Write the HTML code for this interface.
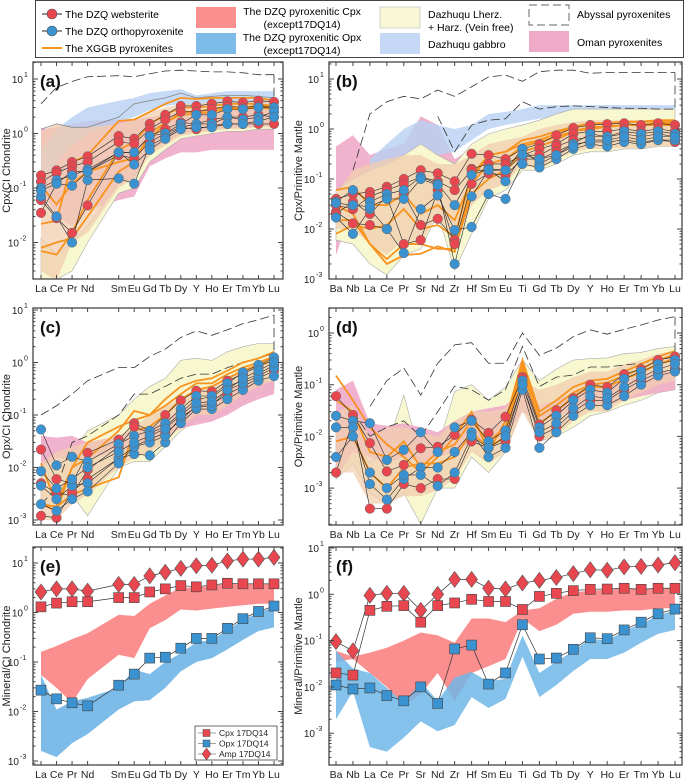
<!DOCTYPE html>
<html><head><meta charset="utf-8"><style>
body{margin:0;background:#fff;}
svg{display:block;font-family:"Liberation Sans",Arial,sans-serif;}
</style></head><body>
<svg id="fig" width="685" height="780" viewBox="0 0 685 780" xmlns="http://www.w3.org/2000/svg">
<g id="legend">
<rect x="35.5" y="0.5" width="648" height="57" fill="#fff" stroke="#444" stroke-width="1"/>
<g><line x1="42" y1="14" x2="62" y2="14" stroke="#222"/><circle cx="52" cy="14" r="5" fill="#e8474f" stroke="#555" stroke-width="0.6"/><text x="65" y="18" font-size="10.5">The DZQ websterite</text></g>
<g><line x1="42" y1="31" x2="62" y2="31" stroke="#222"/><circle cx="52" cy="31" r="5" fill="#3a93d0" stroke="#555" stroke-width="0.6"/><text x="65" y="35" font-size="10.5">The DZQ orthopyroxenite</text></g>
<g><line x1="42" y1="48" x2="62" y2="48" stroke="#f7931e" stroke-width="2"/><text x="65" y="52" font-size="10.5">The XGGB pyroxenites</text></g>
<g><rect x="196" y="7" width="40" height="21" fill="#fb8f8f"/><text x="302" y="15" font-size="10.5" text-anchor="middle">The DZQ pyroxenitic Cpx</text><text x="302" y="28" font-size="10.5" text-anchor="middle">(except17DQ14)</text></g>
<g><rect x="196" y="33" width="40" height="21" fill="#7dbce8"/><text x="302" y="41" font-size="10.5" text-anchor="middle">The DZQ pyroxenitic Opx</text><text x="302" y="54" font-size="10.5" text-anchor="middle">(except17DQ14)</text></g>
<g><rect x="380" y="7" width="40" height="21" fill="#f8f8d6" stroke="#bbb" stroke-width="0.6"/><text x="428" y="18" font-size="10.5">Dazhuqu Lherz.</text><text x="428" y="31" font-size="10.5">+ Harz. (Vein free)</text></g>
<g><rect x="380" y="33" width="40" height="21" fill="#c4d8f5"/><text x="428" y="48" font-size="10.5">Dazhuqu gabbro</text></g>
<g><rect x="529" y="5" width="40" height="20" fill="none" stroke="#666" stroke-dasharray="8,4"/><text x="577" y="18" font-size="10.5">Abyssal pyroxenites</text></g>
<g><rect x="529" y="31" width="40" height="21" fill="#eeaac6"/><text x="577" y="46" font-size="10.5">Oman pyroxenites</text></g>
</g>
</svg>
<script>
// ---------- categories ----------
const ree = ['La','Ce','Pr','Nd','','Sm','Eu','Gd','Tb','Dy','Y','Ho','Er','Tm','Yb','Lu'];
const spd = ['Ba','Nb','La','Ce','Pr','Sr','Nd','Zr','Hf','Sm','Eu','Ti','Gd','Tb','Dy','Y','Ho','Er','Tm','Yb','Lu'];
const yTicksA = [-2,-1,0,1];
const yTicksB = [-3,-2,-1,0,1];
const yTicksC = [-3,-2,-1,0,1];
const yTicksD = [-3,-2,-1,0];
const yTicksE = [-3,-2,-1,0,1];
const yTicksF = [-3,-2,-1,0,1];
// ---------- panel a ----------
const aAbyUp = [3.5,7,9,11,11.5,11,12.5,14,14.5,14,13.5,13.5,13,12,12];
const aAbyLo = [1.2,1.5,1.3,1.3,2,3.5,4,4.5,5.5,4.5,4.8,5,5,4.8,4.5];
const aGabUp = [0.5,1.2,2,3,4,4.5,5.5,6,6.5,5,5.5,6,6,6,6];
const aGabLo = [0.12,0.3,0.6,1,1.6,2,2.7,3.2,3.5,3.2,3.5,3.5,3.5,3.5,3.5];
const aOmUp = [1.2,1.3,1.5,1.7,1.8,1.8,2,2.2,2.5,2.5,2.6,2.7,2.8,2.9,3];
const aOmLo = [0.1,0.03,0.02,0.04,0.06,0.07,0.25,0.35,0.45,0.45,0.5,0.5,0.5,0.5,0.5];
const aLzUp = [0.012,0.006,0.01,0.02,0.12,0.15,0.5,0.7,1,1.1,1.2,1.3,1.3,1.4,1.4];
const aLzLo = [0.0021,0.0021,0.003,0.01,0.08,0.1,0.3,0.5,0.8,0.9,1,1.1,1.1,1.2,1.2];
const aTanUp = [1.1,1.5,1.3,1.3,1.5,1.8,2.5,3,3.5,3.5,3.8,4,4,4,4];
const aTanLo = [0.003,0.002,0.01,0.015,0.1,0.15,0.4,0.6,0.9,1,1.1,1.2,1.2,1.3,1.3];
const aRed1 = [0.17,0.21,0.3,0.38,0.9,0.8,1.5,2.2,3.2,3.2,3.5,3.9,3.7,4.0,3.8];
const aRed2 = [0.13,0.19,0.25,0.3,0.7,0.65,1.2,1.8,2.5,2.5,2.8,3.2,3.0,3.2,3.0];
const aRed3 = [0.06,0.028,0.015,0.048,0.45,0.45,0.9,1.2,1.6,1.5,1.8,2.0,2.0,2.2,2.0];
const aRed4 = [0.035,0.12,0.2,0.2,0.4,0.35,0.7,1.0,1.3,1.2,1.4,1.5,1.5,1.5,1.5];
const aBlue1 = [0.1,0.14,0.17,0.22,0.45,0.45,0.9,1.0,1.5,2.2,2.2,2.8,2.8,3.0,3.0];
const aBlue2 = [0.07,0.03,0.01,0.14,0.15,0.12,0.6,0.85,1.3,1.5,1.5,2.0,1.8,2.0,2.5];
const aBlue3 = [0.09,0.12,0.11,0.2,0.45,0.27,0.5,0.8,1.2,1.3,1.3,1.5,1.5,1.7,2.0];
const aOr1 = [0.022,0.025,0.3,0.4,1.7,1.8,2.5,3.5,4.5,4.3,4.5,4.5,4.5,4.5,4.0];
const aOr2 = [0.007,0.006,0.015,0.06,0.5,0.7,1.5,2.2,3.0,3.0,3.2,3.5,3.5,3.5,3.2];
const aOr3 = [0.11,0.05,0.12,0.2,0.3,0.35,0.8,1.5,2.5,2.5,2.8,3.0,3.0,3.2,3.0];
const aOr4 = [0.008,0.01,0.012,0.03,0.2,0.3,1.0,1.6,2.2,2.3,2.5,2.8,2.8,3.0,2.8];
// ---------- panel b ----------
const bAbyUp = [null,0.15,2,3.5,4.5,4,6,4.5,7,11,12,9,14,15,15,13,13.5,13.5,13.5,13.5,13.5];
const bAbyLo = [null,null,null,null,null,null,1.8,0.35,1.2,1.5,1.6,3.5,2.5,2.8,2.9,2.8,2.7,2.6,2.6,2.5,2.5];
const bGabUp = [null,null,0.25,0.5,1,1.5,1.2,1.0,1.2,2,2.2,2.5,3,3,3,3,3,3,3,3,3];
const bGabLo = [null,null,0.1,0.15,0.25,0.3,0.3,0.35,0.6,1,1.2,1.4,1.6,1.8,2,2,2,2,2,2,2];
const bOmUp = [0.45,0.75,0.3,0.4,0.5,1.8,1.2,0.25,0.4,0.6,0.7,0.8,0.9,0.95,1,1,1,1,1,1,1];
const bOmLo = [0.003,0.03,0.05,0.05,0.04,0.06,0.07,0.04,0.1,0.15,0.18,0.2,0.2,0.25,0.3,0.35,0.35,0.4,0.4,0.45,0.45];
const bLzUp = [0.06,0.1,0.15,0.2,0.3,0.5,0.3,0.2,0.5,0.8,1.0,1.2,1.5,2,2.5,2.5,2.5,2.5,2.5,2.5,2.5];
const bLzLo = [0.006,0.005,0.002,0.0012,0.003,0.004,0.02,0.0015,0.008,0.04,0.06,0.15,0.15,0.2,0.3,0.35,0.35,0.4,0.4,0.45,0.45];
const bTanUp = [0.05,0.15,0.2,0.25,0.3,0.3,0.2,0.2,0.3,0.5,0.6,0.7,1.0,1.2,1.4,1.5,1.5,1.5,1.5,1.5,1.5];
const bTanLo = [0.01,0.01,0.005,0.003,0.006,0.005,0.02,0.004,0.03,0.06,0.08,0.2,0.15,0.25,0.35,0.4,0.4,0.42,0.42,0.45,0.45];
const bRed1 = [0.04,0.05,0.055,0.07,0.1,0.15,0.13,0.09,0.32,0.3,0.25,0.4,0.5,0.75,1.05,1.2,1.25,1.3,1.2,1.3,1.2];
const bRed2 = [0.022,0.013,0.012,0.01,0.05,0.012,0.016,0.006,0.16,0.2,0.2,0.3,0.4,0.5,0.8,0.9,0.9,1.0,0.9,1.0,0.9];
const bRed3 = [0.03,0.025,0.045,0.06,0.08,0.11,0.09,0.06,0.15,0.15,0.15,0.3,0.3,0.45,0.6,0.7,0.7,0.8,0.7,0.8,0.7];
const bRed4 = [0.02,0.035,0.02,0.045,0.005,0.006,0.06,0.005,0.08,0.13,0.12,0.25,0.25,0.35,0.5,0.55,0.55,0.6,0.55,0.6,0.55];
const bBlue1 = [0.035,0.06,0.035,0.05,0.06,0.11,0.08,0.03,0.12,0.16,0.15,0.4,0.2,0.3,0.5,0.8,0.7,0.9,0.8,0.9,0.8];
const bBlue2 = [0.017,0.008,0.025,0.01,0.0033,0.025,0.047,0.0095,0.011,0.05,0.04,0.2,0.17,0.25,0.4,0.5,0.45,0.55,0.5,0.6,0.6];
const bBlue3 = [0.033,0.03,0.028,0.04,0.04,0.1,0.075,0.002,0.045,0.15,0.09,0.3,0.25,0.3,0.45,0.6,0.6,0.7,0.6,0.7,0.7];
const bOr1 = [0.06,0.07,0.03,0.03,0.05,0.02,0.03,0.015,0.1,0.3,0.35,0.5,0.6,0.8,1.1,1.3,1.3,1.4,1.4,1.5,1.5];
const bOr2 = [0.015,0.015,0.005,0.0025,0.005,0.005,0.004,0.004,0.05,0.1,0.15,0.35,0.45,0.6,0.9,1.0,1.1,1.2,1.2,1.3,1.3];
const bOr3 = [0.008,0.012,0.01,0.012,0.025,0.01,0.012,0.007,0.12,0.3,0.35,0.6,0.7,0.9,1.1,1.3,1.3,1.4,1.4,1.4,1.4];
const bOr4 = [0.03,0.02,0.005,0.002,0.003,0.0032,0.0045,0.0035,0.08,0.2,0.25,0.45,0.55,0.7,0.9,1.1,1.1,1.2,1.2,1.2,1.2];
// ---------- panel c ----------
const cAbyUp = [0.1,0.15,0.25,0.45,0.8,0.8,1.3,1.8,3,4,3.3,4.2,5.5,6.5,8];
const cAbyLo = [0.002,0.004,0.03,0.04,0.1,0.25,0.25,0.35,0.5,0.6,0.6,0.8,1.0,1.2,1.5];
const cLzUp = [0.01,0.012,0.02,0.05,0.1,0.2,0.35,0.5,1.1,1.2,1.1,1.6,2,2.3,2.3];
const cLzLo = [0.002,0.0015,0.003,0.0012,0.01,0.013,0.013,0.025,0.05,0.08,0.08,0.12,0.18,0.25,0.3];
const cOmUp = [0.04,0.037,0.04,0.03,0.04,0.05,0.06,0.08,0.12,0.18,0.2,0.3,0.4,0.45,0.45];
const cOmLo = [0.01,0.015,0.015,0.015,0.02,0.025,0.03,0.04,0.055,0.065,0.075,0.1,0.15,0.2,0.25];
const cTanUp = [0.012,0.02,0.025,0.03,0.04,0.06,0.1,0.15,0.2,0.3,0.35,0.5,0.7,0.9,1.2];
const cTanLo = [0.001,0.001,0.002,0.003,0.01,0.015,0.02,0.03,0.06,0.1,0.1,0.15,0.25,0.35,0.45];
const cRed1 = [0.022,0.006,0.005,0.019,0.034,0.07,0.05,0.1,0.19,0.29,0.28,0.45,0.6,0.85,1.1];
const cRed2 = [0.005,0.0032,0.003,0.009,0.025,0.06,0.045,0.06,0.11,0.2,0.22,0.35,0.45,0.6,0.9];
const cRed3 = [0.0012,0.0011,0.0035,0.006,0.015,0.025,0.035,0.045,0.08,0.15,0.16,0.25,0.35,0.5,0.7];
const cBlue1 = [0.053,0.011,0.016,0.013,0.028,0.04,0.05,0.07,0.13,0.23,0.23,0.4,0.65,0.9,1.25];
const cBlue2 = [0.0045,0.0025,0.0045,0.005,0.015,0.018,0.017,0.03,0.07,0.13,0.13,0.2,0.3,0.45,0.55];
const cBlue3 = [0.002,0.0015,0.0025,0.0035,0.012,0.025,0.03,0.04,0.09,0.14,0.15,0.3,0.4,0.55,0.8];
const cBlue4 = [0.0085,0.004,0.006,0.01,0.02,0.03,0.04,0.055,0.1,0.17,0.18,0.3,0.5,0.7,1.0];
const cOr1 = [0.002,0.0015,0.01,0.015,0.05,0.12,0.1,0.2,0.35,0.45,0.5,0.7,1.0,1.2,1.6];
const cOr2 = [0.012,0.002,0.01,0.03,0.06,0.08,0.1,0.15,0.25,0.4,0.4,0.6,0.8,1.0,1.3];
const cOr3 = [0.002,0.0018,0.003,0.004,0.0065,0.05,0.06,0.1,0.2,0.3,0.35,0.5,0.7,0.9,1.1];
// ---------- panel d ----------
const dAbyUp = [null,null,0.038,0.12,0.21,0.063,0.26,0.59,0.65,0.26,0.26,1.0,0.37,0.51,0.85,1.15,0.95,1.18,1.43,1.78,2.07];
const dAbyLo = [null,0.03,0.01,0.015,0.02,0.01,0.03,0.094,0.08,0.05,0.08,0.55,0.092,0.14,0.154,0.22,0.22,0.24,0.26,0.30,0.35];
const dLzUp = [0.02,0.01,0.003,0.006,0.063,0.004,0.006,0.074,0.1,0.05,0.09,0.3,0.12,0.2,0.3,0.32,0.33,0.4,0.42,0.5,0.55];
const dLzLo = [0.0015,0.003,0.0008,0.0005,0.0008,0.0002,0.001,0.001,0.004,0.002,0.005,0.04,0.008,0.01,0.015,0.025,0.03,0.04,0.05,0.07,0.08];
const dOmUp = [0.08,0.12,0.018,0.016,0.018,0.015,0.012,0.02,0.03,0.035,0.04,0.08,0.04,0.05,0.07,0.09,0.09,0.12,0.15,0.18,0.2];
const dOmLo = [0.0015,0.005,0.004,0.003,0.004,0.003,0.004,0.005,0.008,0.008,0.01,0.03,0.02,0.025,0.03,0.04,0.04,0.05,0.06,0.07,0.08];
const dTanUp = [0.03,0.04,0.01,0.015,0.015,0.012,0.01,0.02,0.03,0.03,0.035,0.12,0.08,0.1,0.14,0.18,0.18,0.25,0.3,0.4,0.45];
const dTanLo = [0.002,0.002,0.0005,0.0005,0.0007,0.0007,0.0009,0.0015,0.005,0.003,0.005,0.03,0.008,0.01,0.02,0.03,0.03,0.05,0.07,0.1,0.12];
const dRed1 = [0.06,0.026,0.0074,0.0021,0.0028,0.0059,0.0063,0.0107,0.021,0.0117,0.024,0.14,0.017,0.032,0.055,0.1,0.09,0.16,0.2,0.3,0.35];
const dRed2 = [0.002,0.02,0.0004,0.0004,0.0012,0.001,0.0015,0.0015,0.008,0.006,0.008,0.1,0.01,0.015,0.03,0.05,0.05,0.08,0.12,0.17,0.2];
const dBlue1 = [0.025,0.02,0.018,0.0035,0.0055,0.012,0.005,0.015,0.02,0.008,0.013,0.12,0.015,0.025,0.05,0.08,0.07,0.13,0.18,0.25,0.3];
const dBlue2 = [0.015,0.015,0.0012,0.0006,0.0015,0.0025,0.0025,0.005,0.012,0.004,0.006,0.08,0.006,0.012,0.025,0.04,0.04,0.06,0.1,0.15,0.18];
const dBlue3 = [0.004,0.01,0.002,0.001,0.0018,0.0018,0.0011,0.002,0.01,0.006,0.01,0.1,0.012,0.018,0.035,0.06,0.055,0.09,0.14,0.2,0.25];
const dOr1 = [0.15,0.05,0.015,0.007,0.004,0.002,0.004,0.01,0.03,0.005,0.02,0.3,0.03,0.05,0.09,0.12,0.13,0.18,0.25,0.35,0.45];
const dOr2 = [0.05,0.03,0.005,0.004,0.008,0.0025,0.005,0.007,0.02,0.008,0.015,0.25,0.025,0.04,0.07,0.1,0.11,0.15,0.2,0.3,0.38];
const dOr3 = [0.008,0.01,0.002,0.001,0.0025,0.003,0.003,0.004,0.012,0.006,0.01,0.2,0.018,0.03,0.06,0.09,0.09,0.13,0.17,0.25,0.32];
// ---------- panel e ----------
const eCpxUp = [0.16,0.21,0.29,0.38,0.9,0.85,1.5,2.2,3.2,3.2,3.5,3.8,3.7,3.8,3.8];
const eCpxLo = [0.055,0.03,0.015,0.045,0.14,0.12,0.48,0.7,1.15,1.1,1.2,1.3,1.4,1.5,1.5];
const eOpxUp = [0.055,0.011,0.016,0.019,0.03,0.07,0.057,0.1,0.15,0.25,0.28,0.45,0.7,1.0,1.3];
const eOpxLo = [0.0016,0.0012,0.0023,0.0035,0.011,0.016,0.017,0.03,0.065,0.1,0.12,0.18,0.28,0.42,0.5];
const eAmp = [2.6,3.0,3.0,2.7,3.7,3.7,5.5,6.5,7.8,8.8,9,11,12,12,13];
const eCpx = [1.3,1.55,1.65,1.65,2.0,2.0,2.6,3.0,3.5,3.3,3.6,3.9,3.8,3.8,3.8];
const eOpx = [0.027,0.018,0.015,0.013,0.034,0.057,0.12,0.125,0.19,0.3,0.3,0.48,0.75,1.05,1.35];
// ---------- panel f ----------
const fCpxUp = [0.06,0.045,0.055,0.07,0.1,0.15,0.13,0.09,0.3,0.3,0.25,0.45,0.5,0.8,1.1,1.2,1.25,1.35,1.3,1.35,1.35];
const fCpxLo = [0.035,0.04,0.02,0.01,0.004,0.007,0.02,0.005,0.02,0.028,0.04,0.3,0.16,0.22,0.38,0.42,0.42,0.45,0.45,0.5,0.5];
const fOpxUp = [0.06,0.025,0.02,0.0095,0.0045,0.013,0.005,0.016,0.021,0.013,0.015,0.13,0.02,0.035,0.06,0.11,0.1,0.16,0.23,0.35,0.45];
const fOpxLo = [0.002,0.008,0.0005,0.0004,0.0008,0.0018,0.0011,0.0015,0.006,0.0035,0.0055,0.045,0.006,0.011,0.022,0.04,0.04,0.055,0.09,0.14,0.17];
const fAmp = [0.095,0.06,0.95,1.05,1.05,0.45,1.0,2.1,2.1,1.35,1.3,1.75,2.0,2.3,2.8,3.4,3.3,3.9,4.0,4.3,4.8];
const fCpx = [0.02,0.018,0.45,0.55,0.57,0.25,0.57,0.65,0.78,0.7,0.7,0.47,0.9,1.05,1.2,1.28,1.3,1.35,1.28,1.35,1.35];
const fOpx = [0.011,0.009,0.0095,0.0065,0.005,0.01,0.0044,0.066,0.08,0.0115,0.02,0.22,0.04,0.042,0.065,0.115,0.11,0.17,0.25,0.38,0.48];

const NS='http://www.w3.org/2000/svg';
const svg=document.getElementById('fig');
function mk(tag,attrs,parent){const e=document.createElementNS(NS,tag);for(const k in attrs)e.setAttribute(k,attrs[k]);(parent||svg).appendChild(e);return e;}

const panels=[
 {id:'a',cats:ree,x0:33,x1:283,y0:62,y1:279,xf:41,xl:274,refY:79,refE:1,dec:54.5,ticks:yTicksA,ytitle:'Cpx/CI Chondrite',tx:6,
  bands:[[aOmUp,aOmLo,'#eeaac6',0.9],[aGabUp,aGabLo,'#b8d1f3',0.8],[aLzUp,aLzLo,'#f8f8d0',1],[aTanUp,aTanLo,'#f2cdb0',0.75]],
  dashed:[aAbyUp],gray:[aAbyLo],orange:[aOr1,aOr2,aOr3,aOr4],red:[aRed1,aRed2,aRed3,aRed4],blue:[aBlue1,aBlue2,aBlue3]},
 {id:'b',cats:spd,x0:329,x1:682,y0:62,y1:279,xf:336,xl:675,refY:79,refE:1,dec:50,ticks:yTicksB,ytitle:'Cpx/Primitive Mantle',tx:298,
  bands:[[bOmUp,bOmLo,'#eeaac6',0.9],[bGabUp,bGabLo,'#b8d1f3',0.8],[bLzUp,bLzLo,'#f8f8d0',1],[bTanUp,bTanLo,'#f2cdb0',0.75]],
  dashed:[bAbyUp,bAbyLo],gray:[],orange:[bOr1,bOr2,bOr3,bOr4],red:[bRed1,bRed2,bRed3,bRed4],blue:[bBlue1,bBlue2,bBlue3]},
 {id:'c',cats:ree,x0:33,x1:283,y0:308,y1:525,xf:41,xl:274,refY:310,refE:1,dec:52.5,ticks:yTicksC,ytitle:'Opx/CI Chondrite',tx:6,
  bands:[[cLzUp,cLzLo,'#f8f8d0',1],[cOmUp,cOmLo,'#eeaac6',0.9],[cTanUp,cTanLo,'#f2cdb0',0.75]],
  dashed:[cAbyUp,cAbyLo],gray:[],orange:[cOr1,cOr2,cOr3],red:[cRed1,cRed2,cRed3],blue:[cBlue1,cBlue2,cBlue3,cBlue4]},
 {id:'d',cats:spd,x0:329,x1:682,y0:308,y1:525,xf:336,xl:675,refY:333,refE:0,dec:51.7,ticks:yTicksD,ytitle:'Opx/Primitive Mantle',tx:298,
  bands:[[dLzUp,dLzLo,'#f8f8d0',1],[dOmUp,dOmLo,'#eeaac6',0.9],[dTanUp,dTanLo,'#f2cdb0',0.75]],
  dashed:[dAbyUp,dAbyLo],gray:[],orange:[dOr1,dOr2,dOr3],red:[dRed1,dRed2],blue:[dBlue1,dBlue2,dBlue3]},
 {id:'e',cats:ree,x0:33,x1:283,y0:547,y1:765,xf:41,xl:274,refY:563,refE:1,dec:49.5,ticks:yTicksE,ytitle:'Mineral/CI Chondrite',tx:6,
  bands:[[eCpxUp,eCpxLo,'#fb8f8f',1],[eOpxUp,eOpxLo,'#7dbce8',1]],dashed:[],gray:[],orange:[],red:[],blue:[],
  minerals:[[eAmp,'amp'],[eCpx,'cpx'],[eOpx,'opx']]},
 {id:'f',cats:spd,x0:329,x1:682,y0:547,y1:765,xf:336,xl:675,refY:548,refE:1,dec:46.3,ticks:yTicksF,ytitle:'Mineral/Primitive Mantle',tx:298,
  bands:[[fCpxUp,fCpxLo,'#fb8f8f',1],[fOpxUp,fOpxLo,'#6fb6e8',0.85]],dashed:[],gray:[],orange:[],red:[],blue:[],
  minerals:[[fAmp,'amp'],[fCpx,'cpx'],[fOpx,'opx']]}
];

panels.forEach(p=>{
  const g=mk('g',{});
  
  
  const named=p.cats.map((c,i)=>({c,i})).filter(o=>o.c!=='');
  const n=p.cats.length;
  const xs=i=>p.xf+(p.xl-p.xf)*i/(n-1);
  const X=k=>xs(named[k].i);
  const Y=v=>p.refY-(Math.log10(v)-p.refE)*p.dec;
  const cp=mk('clipPath',{id:'clip'+p.id},g);
  mk('rect',{x:p.x0,y:p.y0,width:p.x1-p.x0,height:p.y1-p.y0},cp);
  const plot=mk('g',{'clip-path':'url(#clip'+p.id+')'},g);
  function pts(arr){const o=[];arr.forEach((v,k)=>{if(v!=null)o.push([X(k),Y(v)]);});return o;}
  p.bands.forEach(b=>{
    const up=pts(b[0]),lo=pts(b[1]).reverse();
    const poly=mk('polygon',{points:up.concat(lo).map(q=>q.join(',')).join(' '),fill:b[2],'fill-opacity':b[3],stroke:b[2]==='#f8f8d0'?'#aaa':'none','stroke-width':0.6},plot);
    
    
  });
  p.gray.forEach(s=>{const l=mk('polyline',{points:pts(s).map(q=>q.join(',')).join(' '),fill:'none',stroke:'#888','stroke-width':0.8},plot);
    
    });
  p.dashed.forEach(s=>{const q=pts(s);
    const l=mk('polyline',{points:q.map(r=>r.join(',')).join(' '),fill:'none',stroke:'#333','stroke-width':0.8,'stroke-dasharray':'9,4'},plot);
    
    });
  if(p.dashed.length){const a=p.dashed[0],last=a.length-1,lo=p.dashed[1]||p.gray[0];
    if(lo){const c=mk('line',{x1:X(last),y1:Y(a[last]),x2:X(last),y2:Y(lo[last]),stroke:'#333','stroke-width':0.8,'stroke-dasharray':'9,4'},plot);
    
    }}
  p.orange.forEach(s=>{const l=mk('polyline',{points:pts(s).map(q=>q.join(',')).join(' '),fill:'none',stroke:'#f7931e','stroke-width':1.8},plot);
    
    });
  const samp=p.red.map(s=>[s,'#e8474f','websterite']).concat(p.blue.map(s=>[s,'#3a93d0','orthopyroxenite']));
  samp.forEach(sv=>{const l=mk('polyline',{points:pts(sv[0]).map(q=>q.join(',')).join(' '),fill:'none',stroke:'#222','stroke-width':0.6},plot);
    
    });
  samp.forEach(sv=>{pts(sv[0]).forEach(q=>{const c=mk('circle',{cx:q[0],cy:q[1],r:4.8,fill:sv[1],stroke:'#666','stroke-width':0.5},plot);
    
    });});
  (p.minerals||[]).forEach(m=>{
    const l=mk('polyline',{points:pts(m[0]).map(q=>q.join(',')).join(' '),fill:'none',stroke:'#333','stroke-width':0.7},plot);
    
    
    pts(m[0]).forEach(q=>{let e;
      if(m[1]==='amp')e=mk('polygon',{points:`${q[0]},${q[1]-8} ${q[0]+6},${q[1]} ${q[0]},${q[1]+8} ${q[0]-6},${q[1]}`,fill:'#e8474f',stroke:'#555','stroke-width':0.6},plot);
      else e=mk('rect',{x:q[0]-5,y:q[1]-5,width:10,height:10,fill:m[1]==='cpx'?'#e8474f':'#3a93d0',stroke:'#444','stroke-width':0.6},plot);
      
      });
  });
  const fr=mk('rect',{x:p.x0,y:p.y0,width:p.x1-p.x0,height:p.y1-p.y0,fill:'none',stroke:'#444','stroke-width':1.3},g);
  
  
  named.forEach(o=>{const x=xs(o.i);
    mk('line',{x1:x,y1:p.y1,x2:x,y2:p.y1-4,stroke:'#444'},g);
    mk('line',{x1:x,y1:p.y0,x2:x,y2:p.y0+4,stroke:'#444'},g);
    const t=mk('text',{x:x,y:p.y1+13,'font-size':10.5,'text-anchor':'middle',fill:'#222'},g);
    t.textContent=o.c;
    
    });
  for(let e=-5;e<=2;e++){for(let m=1;m<10;m++){const v=m*Math.pow(10,e);const y=Y(v);if(y<p.y0||y>p.y1)continue;
    const L=m===1?5:2.5;
    mk('line',{x1:p.x0,y1:y,x2:p.x0+L,y2:y,stroke:'#444'},g);
    mk('line',{x1:p.x1,y1:y,x2:p.x1-L,y2:y,stroke:'#444'},g);}}
  p.ticks.forEach(e=>{const y=Y(Math.pow(10,e));
    const ex=e<0?p.x0-13:p.x0-9;
    const t=mk('text',{x:ex-1,y:y+4,'font-size':10,'text-anchor':'end',fill:'#222'},g);
    t.textContent='10';
    
    
    const s=mk('text',{x:ex,y:y-2,'font-size':7,fill:'#222'},g);
    s.textContent=String(e);
    
    });
  const cy=(p.y0+p.y1)/2;
  const yt=mk('text',{x:p.tx,y:cy,'font-size':11,'text-anchor':'middle',transform:`rotate(-90 ${p.tx} ${cy})`,dy:4,fill:'#222'},g);
  yt.textContent=p.ytitle;
  
  
  const lab=mk('text',{x:p.x0+7,y:p.y0+25,'font-size':17,'font-weight':'bold',fill:'#111'},g);
  lab.textContent='('+p.id+')';
  
  
});

const lg=mk('g',{});


mk('rect',{x:195,y:726,width:82,height:34,fill:'#fff',stroke:'#444','stroke-width':0.8},lg);
const lgItems=[['Cpx 17DQ14','#e8474f','sq'],['Opx 17DQ14','#3a93d0','sq'],['Amp 17DQ14','#e8474f','di']];
lgItems.forEach((it,i)=>{const y=733+i*10.5;
  mk('line',{x1:198,y1:y,x2:216,y2:y,stroke:'#444','stroke-width':0.6},lg);
  if(it[2]==='sq')mk('rect',{x:203,y:y-3.5,width:7,height:7,fill:it[1],stroke:'#444','stroke-width':0.5},lg);
  else mk('polygon',{points:`206.5,${y-6} 211,${y} 206.5,${y+6} 202,${y}`,fill:it[1],stroke:'#444','stroke-width':0.5},lg);
  const t=mk('text',{x:219,y:y+3,'font-size':8.5,fill:'#222'},lg);
  t.textContent=it[0];
  
  });
</script>
</body></html>
